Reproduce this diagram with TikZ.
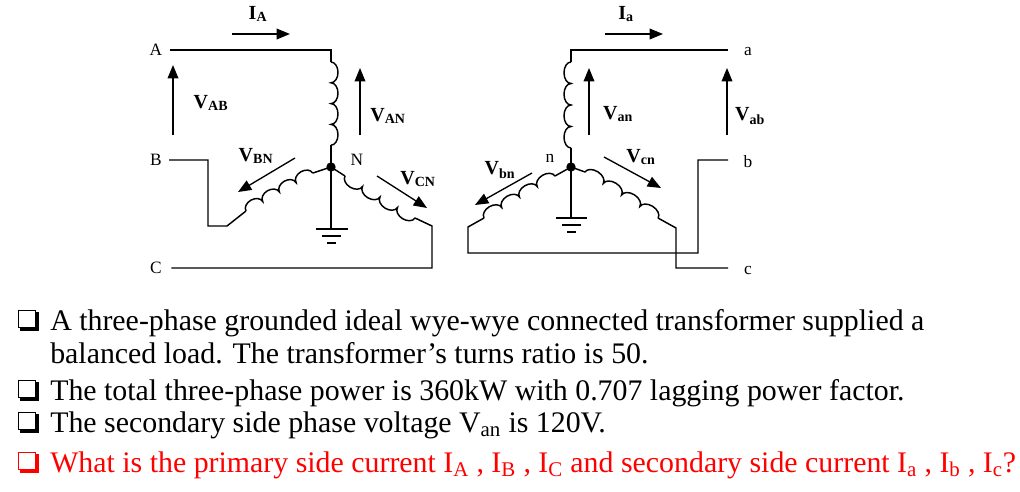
\documentclass[tikz,border=0pt]{standalone}
\usepackage{fontspec}
\setmainfont{Liberation Serif}
\usetikzlibrary{arrows.meta}
\begin{document}
\begin{tikzpicture}[x=0.75pt,y=-0.75pt,
  w/.style={line width=1.1pt},
  va/.style={line width=1pt,-{Triangle[length=10pt,width=8pt]}},
  lb/.style={font=\fontsize{15}{15}\selectfont\bfseries,inner sep=0pt},
  tl/.style={font=\fontsize{13}{13}\selectfont,inner sep=0pt},
  tx/.style={font=\fontsize{22.4}{24}\selectfont,anchor=base west,inner sep=0pt},
  pics/coil/.style={code={\draw[line width=1.1pt] (0,0) foreach \i in {1,...,4}{arc[start angle=180,end angle=0,x radius={#1*0.75pt},y radius={7*0.75pt}]};}},
  box/.style={draw,line width=0.8pt,minimum size=12.5pt,inner sep=0pt},
  shd/.style={line width=2pt}
]
\useasboundingbox (0,0) rectangle (1020,492);
% ---------- left (primary) ----------
\node[tl] (A) at (156,50) {A};
\node[tl] (B) at (156,160) {B};
\node[tl] (C) at (156,268) {C};
\coordinate (N) at (331,167);
\coordinate (Atop) at (331,50);
\coordinate (ca1) at (331,62);
\coordinate (ca2) at (331,145);
\coordinate (Bc) at (208,160);
\coordinate (Bd) at (208,226);
\coordinate (Be) at (227,226);
\coordinate (cb1) at (246,211);
\coordinate (cb2) at (313,173);
\coordinate (cc1) at (345,176);
\coordinate (cc2) at (415,218);
\coordinate (Ce) at (432,226);
\coordinate (Cf) at (432,268);
\draw[w] (A.east)++(7,0) coordinate (A0) -- (Atop) -- (ca1);
\draw[w] (ca2) -- (N);
\pic[rotate=-90] at (ca1) {coil=10.4};
\draw[w] (B.east)++(7,0) coordinate (B0) -- (Bc) -- (Bd) -- (Be) -- (cb1);
\pic[rotate=29.6] at (cb1) {coil=9.6};
\draw[w] (cb2) -- (N) -- (cc1);
\pic[rotate=149] at (cc2) {coil=10.2};
\draw[w] (cc2) -- (Ce) -- (Cf) -- ([xshift=7pt]C.east);
\fill (N) circle (3.5pt);
\coordinate (Ng) at (331,229);
\draw[w] (N) -- (Ng);
\draw[w] (316,229) -- (348,229) (322,236) -- (341,236) (327,243) -- (336,243);
\node[tl] (Nl) at (357,160) {N};
\draw[va] (232,34) -- (290,34);
\node[lb] (IA) at (258,14) {I\textsubscript{A}};
\draw[va] (173,135) -- (173,65);
\node[lb] (VAB) at (211,103) {V\textsubscript{AB}};
\draw[va] (360,135) -- (360,68);
\node[lb] (VAN) at (388,116) {V\textsubscript{AN}};
\draw[va] (295,158) -- (238,192);
\node[lb] (VBN) at (256,156) {V\textsubscript{BN}};
\draw[va] (377,176) -- (427,208);
\node[lb] (VCN) at (418,179) {V\textsubscript{CN}};
% ---------- right (secondary) ----------
\node[tl] (a) at (748,52) {a};
\node[tl] (b) at (748,162) {b};
\node[tl] (c) at (748,270) {c};
\coordinate (n) at (571,167);
\coordinate (atop) at (571,50);
\coordinate (ra1) at (571,62);
\coordinate (ra2) at (571,148);
\coordinate (rb1) at (484,218);
\coordinate (rb2) at (555,176);
\coordinate (rc1) at (585,172);
\coordinate (rc2) at (658,218);
\draw[w] (728,50) -- (atop) -- (ra1);
\pic[rotate=90] at (ra2) {coil=10.75};
\draw[w] (ra2) -- (n);
\draw[w] (728,160) -- (698,160) -- (698,253) -- (468,253) -- (468,227) -- (rb1);
\pic[rotate=30.6] at (rb1) {coil=10.3};
\draw[w] (rb2) -- (n) -- (rc1);
\pic[rotate=-32.2] at (rc1) {coil=10.8};
\draw[w] (rc2) -- (676,228) -- (676,268) -- (728,268);
\fill (n) circle (3.5pt);
\draw[w] (n) -- (571,218);
\draw[w] (556,218) -- (587,218) (562,225) -- (581,225) (567,232) -- (576,232);
\node[tl] (nl) at (550,158) {n};
\draw[va] (605,34) -- (663,34);
\node[lb] (Ia) at (626,14) {I\textsubscript{a}};
\draw[va] (589,135) -- (589,68);
\node[lb] (Van) at (618,114) {V\textsubscript{an}};
\draw[va] (727,135) -- (727,68);
\node[lb] (Vab) at (750,116) {V\textsubscript{ab}};
\draw[va] (532,173) -- (475,205);
\node[lb] (Vbn) at (500,170) {V\textsubscript{bn}};
\draw[va] (604,157) -- (661,188);
\node[lb] (Vcn) at (641,157) {V\textsubscript{cn}};
% ---------- text ----------
\node[box] (b1) at (27,319) {};
\node[box] (b2) at (27,389) {};
\node[box] (b3) at (27,421) {};
\node[box,red] (b4) at (27,461) {};
\foreach \b/\c in {b1/black,b2/black,b3/black,b4/red}
  \draw[shd,\c] ([xshift=1.5pt,yshift=-1pt]\b.south west) -- ([xshift=1pt,yshift=-1pt]\b.south east) -- ([xshift=1pt,yshift=-1.5pt]\b.north east);
\node[tx] (t1) at (50,330) {A three-phase grounded ideal wye-wye connected transformer supplied a};
\node[tx] (t2) at (50,363) {balanced load. The transformer’s turns ratio is 50.};
\node[tx] (t3) at (50,400) {The total three-phase power is 360kW with 0.707 lagging power factor.};
\node[tx] (t4) at (50,432) {The secondary side phase voltage V\textsubscript{an} is 120V.};
\node[tx,red] (t5) at (50,472) {What is the primary side current I\textsubscript{A} , I\textsubscript{B} , I\textsubscript{C} and secondary side current I\textsubscript{a} , I\textsubscript{b} , I\textsubscript{c}?};
\end{tikzpicture}
\end{document}
